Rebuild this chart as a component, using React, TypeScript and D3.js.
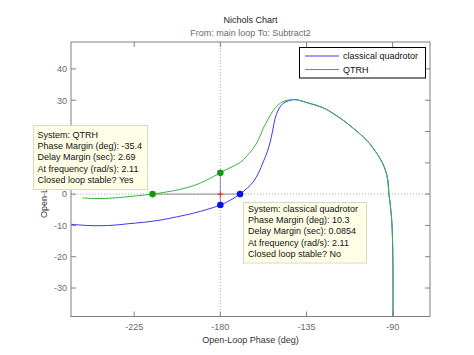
import React from "react";
import * as d3 from "d3";

const W = 474;
const H = 355;

const xTicks = [-225, -180, -135, -90];
const yTicks = [-30, -20, -10, 0, 10, 20, 30, 40];

const bluePhase = [-262, -257.9, -250, -242.8, -235, -228.7, -220, -211.5, -203, -194.1, -187, -180, -174.7, -169.7, -166, -162.8, -160, -157.6, -155.5, -154, -152.6, -151.4, -149.5, -147.2, -144, -141];
const blueGain = [-9.5, -9.65, -10.0, -10.1, -9.9, -9.5, -9.0, -8.3, -7.3, -6.1, -4.9, -3.5, -1.9, 0, 1.9, 3.9, 6.8, 10.3, 13.5, 16.6, 20.5, 24.2, 27.2, 29.0, 29.9, 30.2];

const greenPhase = [-252, -247, -240.7, -235, -228.7, -222, -215.4, -208, -201, -194, -187, -180, -175, -169.6, -166, -162.8, -160, -157.6, -155, -152.4, -149.8, -147.2, -144, -141];
const greenGain = [-1.2, -1.4, -1.4, -1.2, -0.85, -0.45, 0, 0.7, 1.5, 2.7, 4.5, 6.8, 8.4, 10.1, 12.3, 14.6, 17.5, 21, 24, 26.7, 28.5, 29.6, 30.1, 30.2];

const tailPhase = [-138.4, -133.5, -129.5, -125, -121.2, -116.5, -112.3, -108, -103.4, -100, -96.6, -94.5, -93, -92.3, -91.9, -91.4, -90.9, -90.4, -90.1, -89.9, -89.8, -89.8];
const tailGain = [29.9, 29.0, 28.3, 27.2, 25.8, 23.9, 21.9, 19.7, 17.1, 14.5, 11.4, 8.8, 6.0, 3.0, -0.3, -2.5, -5.5, -9.2, -14, -20, -30, -40];

const seriesNames = ["classical quadrotor", "QTRH"];
const seriesColors = ["#3a3af0", "#3cb43c"];
const markerColors = ["#0a14e6", "#119a11"];
const crossPhase = [-169.7, -215.4];
const atMinus180Gain = [-3.5, 6.8];

const tip1 = ["System: QTRH", "Phase Margin (deg): -35.4", "Delay Margin (sec): 2.69", "At frequency (rad/s): 2.11", "Closed loop stable? Yes"];
const tip2 = ["System: classical quadrotor", "Phase Margin (deg): 10.3", "Delay Margin (sec): 0.0854", "At frequency (rad/s): 2.11", "Closed loop stable? No"];

export default function App() {
  const L = 71, R = 430, T = 42, B = 316.5;
  const x = d3.scaleLinear().domain([-258, -70.5]).range([L, R]);
  const y = d3.scaleLinear().domain([-39.1, 48.6]).range([B, T]);
  const font = "'Liberation Sans', Arial, sans-serif";
  const axisColor = "#808080";

  const mk = (ph: number[], g: number[]) => ph.map((p, i) => [p, g[i]] as [number, number]);
  const blue = mk(bluePhase, blueGain).concat(mk(tailPhase, tailGain));
  const green = mk(greenPhase, greenGain).concat(mk(tailPhase, tailGain));
  const line = d3
    .line<[number, number]>()
    .x((d) => x(d[0]))
    .y((d) => y(d[1]))
    .curve(d3.curveCatmullRom.alpha(0.5));

  const tk = 5;
  const tipLine = 11.2;

  return (
    <svg width={W} height={H} style={{ position: "absolute", left: 0, top: 0, background: "#fff" }} fontFamily={font}>
      <defs>
        <clipPath id="plotclip">
          <rect x={L} y={T} width={R - L} height={B - T} />
        </clipPath>
      </defs>
      <rect x={0} y={0} width={W} height={H} fill="#fff" />
      {/* titles */}
      <text x={(L + R) / 2} y={23} textAnchor="middle" fontSize={9} fill="#222">Nichols Chart</text>
      <text x={(L + R) / 2} y={35.5} textAnchor="middle" fontSize={9} fill="#6a6a6a">From: main loop  To: Subtract2</text>

      {/* y label */}
      <text transform={`translate(46.5,175) rotate(-90)`} textAnchor="middle" fontSize={9} fill="#333">Open-Loop Gain (dB)</text>
      {/* x label */}
      <text x={(L + R) / 2} y={343} textAnchor="middle" fontSize={9} fill="#333">Open-Loop Phase (deg)</text>

      {/* dotted grid lines at -180 and 0 */}
      <line x1={x(-180)} x2={x(-180)} y1={T} y2={B} stroke="#b0b0b0" strokeDasharray="1,2" />
      <line x1={L} x2={R} y1={y(0)} y2={y(0)} stroke="#b0b0b0" strokeDasharray="1,2" />

      {/* margin indicator lines */}
      <line x1={x(crossPhase[1])} x2={x(crossPhase[0])} y1={y(0)} y2={y(0)} stroke="#8c8c8c" />
      <line x1={x(-180)} x2={x(-180)} y1={y(atMinus180Gain[1])} y2={y(atMinus180Gain[0])} stroke="#8c8c8c" />

      {/* curves */}
      <g clipPath="url(#plotclip)">
        <path d={line(blue) || ""} fill="none" stroke={seriesColors[0]} strokeWidth={1} />
        <path d={line(green) || ""} fill="none" stroke={seriesColors[1]} strokeWidth={1} />
      </g>

      {/* red crosshair */}
      <line x1={x(-180) - 3} x2={x(-180) + 3} y1={y(0)} y2={y(0)} stroke="#ff2020" />
      <line x1={x(-180)} x2={x(-180)} y1={y(0) - 3} y2={y(0) + 3} stroke="#ff2020" />

      {/* markers */}
      {[0, 1].map((i) => (
        <g key={i}>
          <circle cx={x(crossPhase[i])} cy={y(0)} r={3.3} fill={markerColors[i]} />
          <circle cx={x(-180)} cy={y(atMinus180Gain[i])} r={3.3} fill={markerColors[i]} />
        </g>
      ))}

      {/* axes box */}
      <rect x={L} y={T} width={R - L} height={B - T} fill="none" stroke={axisColor} strokeWidth={1} />
      {xTicks.map((t) => (
        <g key={"x" + t}>
          <line x1={x(t)} x2={x(t)} y1={B} y2={B - tk} stroke={axisColor} />
          <line x1={x(t)} x2={x(t)} y1={T} y2={T + tk} stroke={axisColor} />
          <text x={x(t)} y={329.5} textAnchor="middle" fontSize={9} fill="#6a6a6a">{t}</text>
        </g>
      ))}
      {yTicks.map((t) => (
        <g key={"y" + t}>
          <line x1={L} x2={L + tk} y1={y(t)} y2={y(t)} stroke={axisColor} />
          <line x1={R} x2={R - tk} y1={y(t)} y2={y(t)} stroke={axisColor} />
          <text x={67} y={y(t) + 3.3} textAnchor="end" fontSize={9} fill="#6a6a6a">{t}</text>
        </g>
      ))}

      {/* legend */}
      <rect x={299.5} y={47.5} width={126} height={30.5} fill="#fff" stroke="#000" strokeWidth={1} />
      {seriesNames.map((n, i) => (
        <g key={n}>
          <line x1={305} x2={339} y1={56 + i * 13.5} y2={56 + i * 13.5} stroke={seriesColors[i]} />
          <text x={343} y={59.3 + i * 13.5} fontSize={9} fill="#111">{n}</text>
        </g>
      ))}

      {/* data tips */}
      <rect x={33.5} y={125.5} width={114} height={64} fill="#ffffe8" stroke="#d8d8c8" />
      {tip1.map((s, i) => (
        <text key={s} x={37.5} y={138 + i * tipLine} fontSize={9} fill="#111">{s}</text>
      ))}
      <rect x={243.5} y={202.5} width={123} height={60.5} fill="#ffffe8" stroke="#d8d8c8" />
      {tip2.map((s, i) => (
        <text key={s} x={248} y={212 + i * tipLine} fontSize={9} fill="#111">{s}</text>
      ))}
    </svg>
  );
}
